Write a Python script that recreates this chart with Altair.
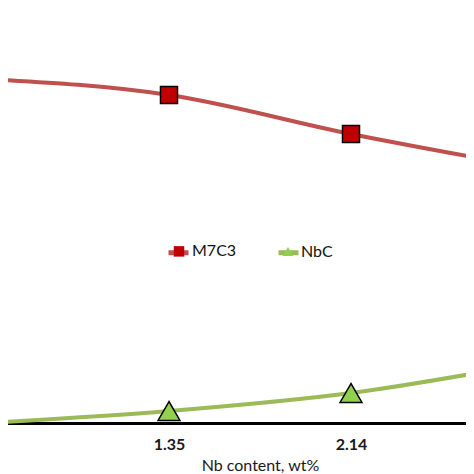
import pandas as pd
import altair as alt

# Nb content categories (the first and last sit outside the cropped view)
nb = ["0", "1.35", "2.14", "2.95"]
m7c3 = [34.4, 32.8, 28.9, 25.5]
nbc = [0.0, 1.2, 3.0, 6.0]
phases = ["M7C3", "NbC"]

dat = pd.DataFrame({
    "nb": nb * 2,
    "phase": [phases[0]] * len(nb) + [phases[1]] * len(nb),
    "vol": m7c3 + nbc,
})
dat["marker"] = dat["phase"]

font = "Lato"

x = alt.X("nb:O", sort=nb,
          scale=alt.Scale(type="point", range=[-21, 525], padding=0),
          axis=alt.Axis(values=["1.35", "2.14"], title="Nb content, wt%",
                        domainColor="black", domainWidth=3, ticks=False, tickSize=0,
                        grid=False, labelAngle=0, labelFont=font, labelFontSize=16,
                        labelFontWeight="bold", labelColor="#1a1a1a",
                        labelBaseline="alphabetic", labelPadding=26,
                        titleFont=font, titleFontSize=16, titleFontWeight="normal",
                        titleColor="#1a1a1a", titleBaseline="alphabetic", titleY=47))
y = alt.Y("vol:Q", scale=alt.Scale(domain=[0, 41.5], nice=False), axis=None)

# line part of the legend keys (labels blanked, drawn under the marker legend)
line_legend = alt.Legend(orient="none", legendX=158, legendY=232, direction="horizontal",
                         title=None, symbolType="stroke", symbolSize=400,
                         symbolStrokeWidth=5, labelExpr="''", labelOffset=5,
                         columnPadding=69, labelFont=font, labelFontSize=16)
pt_legend = alt.Legend(orient="none", legendX=163, legendY=235, direction="horizontal",
                       title=None, symbolSize=110, symbolStrokeColor="black",
                       symbolStrokeWidth=1.5, labelOffset=5, columnPadding=42,
                       labelFont=font, labelFontSize=16, labelColor="#111")

lines = alt.Chart(dat).mark_line(strokeWidth=4, interpolate="monotone").encode(
    x=x, y=y,
    stroke=alt.Stroke("phase:N", scale=alt.Scale(range=["#C0504D", "#9BBB59"]),
                      legend=line_legend),
)

fill = alt.Fill("marker:N", scale=alt.Scale(range=["#C00000", "#92D050"]), legend=pt_legend)
shape = alt.Shape("marker:N", scale=alt.Scale(range=["square", "triangle-up"]), legend=pt_legend)

squares = alt.Chart(dat).transform_filter(alt.datum.phase == "M7C3").mark_point(
    filled=True, stroke="black", strokeWidth=1.5, opacity=1, size=289
).encode(x=x, y=y, fill=fill, shape=shape)

triangles = alt.Chart(dat).transform_filter(alt.datum.phase == "NbC").mark_point(
    filled=True, stroke="black", strokeWidth=1.5, opacity=1, size=480
).encode(x=x, y=y, fill=fill, shape=shape)

chart = (alt.layer(lines, squares, triangles)
    .properties(width=458, height=415, autosize="none",
                padding={"left": 0, "top": 0, "right": 0, "bottom": 51})
    .configure_view(stroke=None))

chart.save("out.html", embed_options={"renderer": "svg", "actions": False})
